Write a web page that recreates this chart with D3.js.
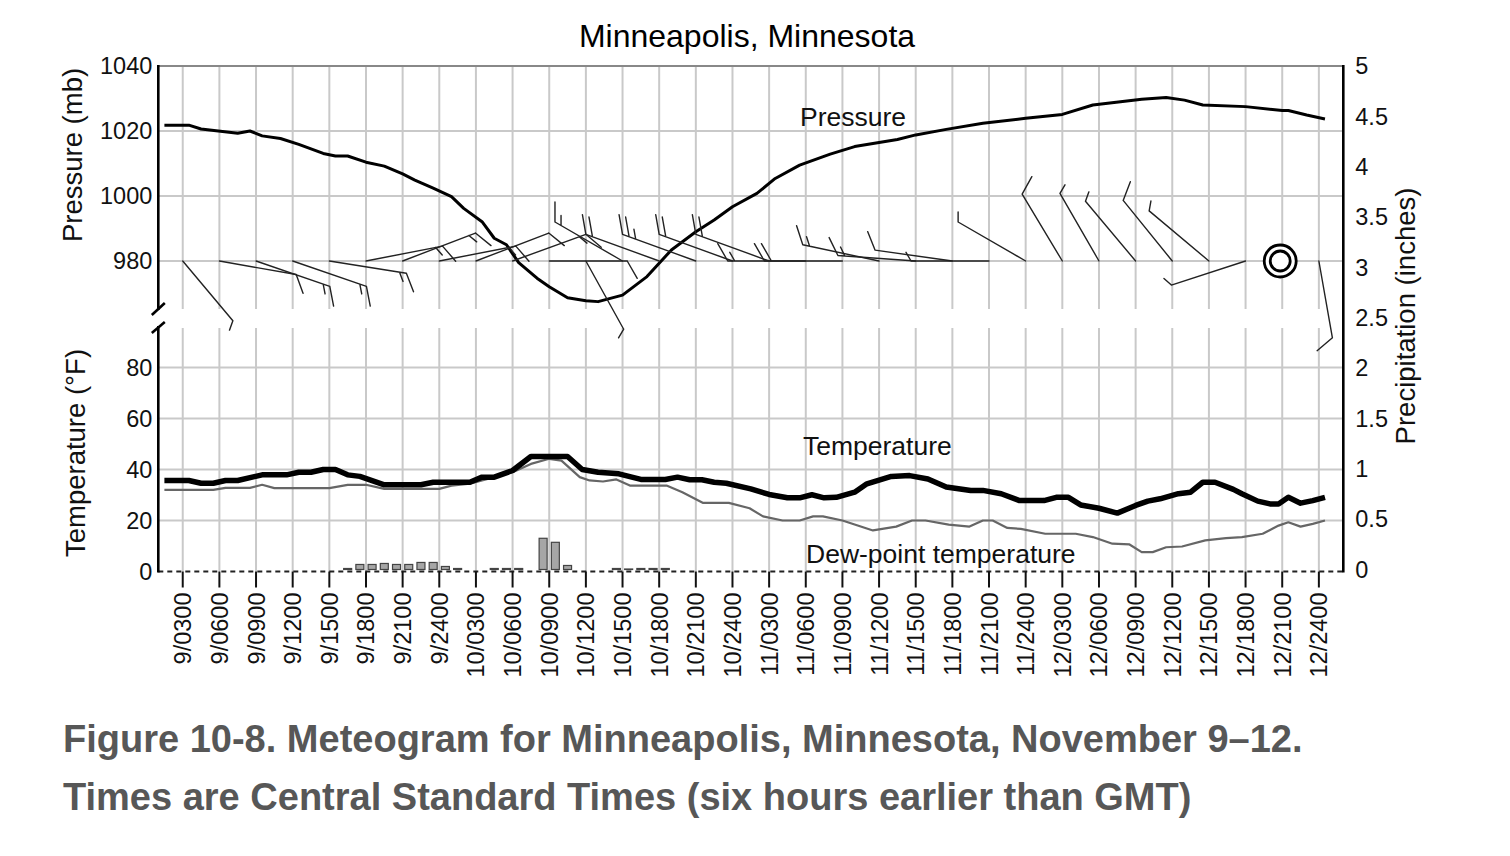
<!DOCTYPE html>
<html><head><meta charset="utf-8">
<script src="https://cdn.jsdelivr.net/npm/d3@7"></script>
<style>
body{margin:0;background:#fff;}
svg{display:block;font-family:"Liberation Sans",Arial,Helvetica,sans-serif;}
</style>
</head><body>
<svg id="chart" width="1510" height="856"></svg>
<script>
// ---------------- DATA ----------------
const tickHours = [3,6,9,12,15,18,21,24,27,30,33,36,39,42,45,48,51,54,57,60,63,66,69,72,75,78,81,84,87,90,93,96];
const tickLabels = ["9/0300","9/0600","9/0900","9/1200","9/1500","9/1800","9/2100","9/2400",
  "10/0300","10/0600","10/0900","10/1200","10/1500","10/1800","10/2100","10/2400",
  "11/0300","11/0600","11/0900","11/1200","11/1500","11/1800","11/2100","11/2400",
  "12/0300","12/0600","12/0900","12/1200","12/1500","12/1800","12/2100","12/2400"];
const pressureTicks = [1040,1020,1000,980];
const tempTicks = [80,60,40,20,0];
const precipTicks = [5,4.5,4,3.5,3,2.5,2,1.5,1,0.5,0];

// pressure (mb)
const pressureHours = [1.5,3.5,4.5,7.5,8.5,9.5,11,12.5,14.5,15.5,16.5,18,19.5,21,22,23.5,25,26,27.5,28.5,29.5,30.5,32,33,34.5,36,37,39,41,43,45,46.5,48,50,51.5,53.5,56,58,61.5,63,65.5,68.5,72,75,77.5,81.5,83.5,85,86.5,90,93,93.5,95,96.5];
const pressureValues = [1021.8,1021.8,1020.6,1019.3,1020,1018.5,1017.7,1015.9,1013.1,1012.3,1012.3,1010.4,1009.2,1006.8,1004.9,1002.4,999.8,996.2,992.1,987,985,979.5,974.7,972.1,968.7,967.8,967.5,969.5,975.2,983.4,989,992.6,996.7,1000.8,1005.4,1009.5,1012.9,1015.2,1017.4,1018.8,1020.5,1022.4,1023.9,1025.1,1028,1029.8,1030.3,1029.5,1028,1027.5,1026.3,1026.3,1024.9,1023.7];

// temperature (F)
const tempHours = [1.5,3.5,4.5,5.5,6.5,7.5,9.5,11.5,12.5,13.5,14.5,15.5,16.5,17.5,19.5,22.5,23.5,26.5,27.5,28.5,30,31.5,34.5,35.7,37,38.7,40.5,42.5,43.5,44.5,45.5,46.5,47.5,49.5,51,52.5,53.5,54.5,55.5,56.5,58,59,61,62.5,64,65.5,67.5,68.5,70,71.5,73.5,74.5,75.5,76.5,78,79.5,81,82,83,84.5,85.5,86.5,87.5,89,89.7,91,92,92.7,93.5,94.5,95.5,96.5];
const tempValues = [35.7,35.7,34.6,34.6,35.7,35.7,37.9,37.9,38.9,38.9,40,40,37.9,37.3,34,34,35,35,37,37,39.6,45.1,45.1,40,38.9,38.3,36.1,36.1,37,36,36,35,34.6,32.4,30.2,28.9,28.9,30.1,28.9,29.1,31.1,34.4,37.3,37.6,36.3,33.1,31.8,31.8,30.5,27.8,27.8,29.1,29.1,26.1,24.8,22.9,25.9,27.6,28.5,30.5,31.1,35,35,32.2,30.5,27.6,26.5,26.5,29.1,26.8,27.8,29.1];

// dew point (F)
const dewHours = [1.5,5.5,6.5,8.5,9.5,10.5,15,16.5,18,19.5,24,25,26.5,28.5,30,31.5,33,34,35.5,36.3,37.4,38.5,39.6,42.6,43.9,45.6,47.7,49.4,50.5,52.1,53.5,54.6,55.4,57,59.5,61.4,62.7,63.8,65.7,67.4,68.5,69.3,70.5,71.6,73.6,76.1,77.5,79.1,80.5,81.5,82.4,83.5,84.8,86.7,88.4,89.7,91.4,92.7,93.5,94.5,95.5,96.5];
const dewValues = [32,32,32.8,32.8,34,32.7,32.7,34,34,32.4,32.4,33.7,34.4,37,38.9,42.2,44.2,43.5,37,35.7,35.3,36.1,33.7,33.7,31.1,26.9,26.9,24.8,21.6,20,20,21.6,21.6,20,16.1,17.6,20,20,18.4,17.6,20,20,17.1,16.7,14.8,14.8,13.5,10.9,10.6,7.6,7.6,9.5,9.8,12.2,13.1,13.5,14.8,18,19.3,17.6,18.7,20];

// hourly precipitation (inches), bar centred on hour
const precipHours = [16.5,17.5,18.5,19.5,20.5,21.5,22.5,23.5,24.5,25.5,28.5,29.5,30.5,32.5,33.5,34.5,38.5,39.5,40.5,41.5,42.5];
const precipValues = [0.01,0.05,0.05,0.06,0.05,0.05,0.07,0.07,0.03,0.01,0.01,0.01,0.01,0.31,0.27,0.04,0.01,0.005,0.01,0.01,0.01];

// wind: direction (deg, from) and speed (kt) at each 3-hour station
const windHours = tickHours;
const windDir = [140,100,109,109,99,79,69,79,69,70,90,151,300,290,290,290,290,270,270,282,274,278,270,300,329,330,320,321,310,252,0,170];
const windSpeed = [5,10,15,15,15,15,15,15,10,15,10,5,15,20,25,20,20,15,20,15,15,10,5,5,10,5,5,10,5,5,0,10];

// ---------------- LAYOUT ----------------
const svg = d3.select("#chart");
const X0 = 158.3, X1 = 1343.3;
const upperTop = 66, upperBot = 309, lowerTop = 328, lowerBot = 571.5;

const x = d3.scaleLinear().domain([1, 98]).range([X0, X1]);
const yP = d3.scaleLinear().domain([1040, 980]).range([upperTop, 261]);
const yT = d3.scaleLinear().domain([0, 80]).range([lowerBot, 367.5]);
const yR = d3.scaleLinear().domain([0, 5]).range([lowerBot - 2, upperTop]);

const gridColor = "#c9c9c9";

// vertical grid
const g = svg.append("g");
tickHours.forEach(h => {
  g.append("line").attr("x1", x(h)).attr("x2", x(h)).attr("y1", upperTop).attr("y2", upperBot)
    .attr("stroke", gridColor).attr("stroke-width", 2);
  g.append("line").attr("x1", x(h)).attr("x2", x(h)).attr("y1", lowerTop).attr("y2", lowerBot)
    .attr("stroke", gridColor).attr("stroke-width", 2);
});
// horizontal grid
[1020, 1000, 980].forEach(p => {
  g.append("line").attr("x1", X0).attr("x2", X1).attr("y1", yP(p)).attr("y2", yP(p))
    .attr("stroke", gridColor).attr("stroke-width", 2);
});
[80, 60, 40, 20].forEach(t => {
  g.append("line").attr("x1", X0).attr("x2", X1).attr("y1", yT(t)).attr("y2", yT(t))
    .attr("stroke", gridColor).attr("stroke-width", 2);
});
// top frame
g.append("line").attr("x1", X0).attr("x2", X1).attr("y1", upperTop).attr("y2", upperTop)
  .attr("stroke", "#888").attr("stroke-width", 2);

// precipitation bars
const bw = 8;
svg.append("g").selectAll("rect").data(precipHours).join("rect")
  .attr("x", (d) => x(d) - bw / 2)
  .attr("y", (d, i) => yR(precipValues[i]))
  .attr("width", bw)
  .attr("height", (d, i) => Math.max(0, yR(0) - yR(precipValues[i])))
  .attr("fill", "#a6a6a6").attr("stroke", "#444").attr("stroke-width", 1.2);

// dashed baseline
svg.append("line").attr("x1", X0).attr("x2", X1).attr("y1", lowerBot).attr("y2", lowerBot)
  .attr("stroke", "#222").attr("stroke-width", 2).attr("stroke-dasharray", "5,4");

// x ticks
svg.append("g").selectAll("line").data(tickHours).join("line")
  .attr("x1", d => x(d)).attr("x2", d => x(d)).attr("y1", lowerBot).attr("y2", lowerBot + 16)
  .attr("stroke", "#111").attr("stroke-width", 2);
// x labels
svg.append("g").selectAll("text").data(tickHours).join("text")
  .attr("transform", d => `translate(${x(d) + 8.5},${lowerBot + 21}) rotate(-90)`)
  .attr("text-anchor", "end").attr("font-size", 23.5).attr("fill", "#111")
  .text((d, i) => tickLabels[i]);

// lines
const lineGen = (xs, ys, yscale) => d3.line().x((d, i) => x(xs[i])).y((d, i) => yscale(ys[i]))(xs);
svg.append("path").attr("d", lineGen(dewHours, dewValues, yT))
  .attr("fill", "none").attr("stroke", "#666").attr("stroke-width", 2.2).attr("stroke-linejoin", "round");
svg.append("path").attr("d", lineGen(tempHours, tempValues, yT))
  .attr("fill", "none").attr("stroke", "#000").attr("stroke-width", 5.5).attr("stroke-linejoin", "round");
svg.append("path").attr("d", lineGen(pressureHours, pressureValues, yP))
  .attr("fill", "none").attr("stroke", "#000").attr("stroke-width", 3).attr("stroke-linejoin", "round");

// wind barbs
const wb = svg.append("g").attr("stroke", "#222").attr("stroke-width", 1.4).attr("fill", "none").attr("stroke-linecap", "round");
const SH = 78, FB = 20, HB = 10, SP = 7;
const rot = 60 * Math.PI / 180;
windHours.forEach((h, i) => {
  const sx = x(h), sy = yP(980);
  const spd = windSpeed[i];
  if (spd === 0) {
    wb.append("circle").attr("cx", sx - 2).attr("cy", sy).attr("r", 16).attr("stroke", "#000").attr("stroke-width", 2.8).attr("fill", "#fff");
    wb.append("circle").attr("cx", sx - 2).attr("cy", sy).attr("r", 10).attr("stroke", "#000").attr("stroke-width", 2.8);
    return;
  }
  const r = windDir[i] * Math.PI / 180;
  const ux = Math.sin(r), uy = -Math.cos(r);
  const tx = sx + SH * ux, ty = sy + SH * uy;
  const bx = ux * Math.cos(rot) - uy * Math.sin(rot), by = ux * Math.sin(rot) + uy * Math.cos(rot);
  let p = `M${sx},${sy}L${tx},${ty}`;
  const n10 = Math.floor(spd / 10), n5 = Math.round((spd % 10) / 5);
  let pos = 0;
  for (let k = 0; k < n10; k++) {
    const px = tx - ux * pos, py = ty - uy * pos;
    p += `M${px},${py}L${px + bx * FB},${py + by * FB}`;
    pos += SP;
  }
  if (n5) {
    const px = tx - ux * pos, py = ty - uy * pos;
    p += `M${px},${py}L${px + bx * HB},${py + by * HB}`;
  }
  wb.append("path").attr("d", p);
});

// axes lines
const ax = svg.append("g").attr("stroke", "#000").attr("stroke-width", 2.6);
ax.append("line").attr("x1", X0).attr("x2", X0).attr("y1", upperTop - 1).attr("y2", 310);
ax.append("line").attr("x1", X0).attr("x2", X0).attr("y1", 326).attr("y2", lowerBot + 1);
ax.append("line").attr("x1", X0 - 6.5).attr("x2", X0 + 6.5).attr("y1", 315).attr("y2", 303);
ax.append("line").attr("x1", X0 - 6.5).attr("x2", X0 + 6.5).attr("y1", 333).attr("y2", 322);
ax.append("line").attr("x1", X1).attr("x2", X1).attr("y1", upperTop - 1).attr("y2", lowerBot + 1);

// tick labels
const tl = svg.append("g").attr("font-size", 23.5).attr("fill", "#111");
pressureTicks.forEach(p => tl.append("text").attr("x", X0 - 6).attr("y", yP(p)).attr("dy", "0.35em").attr("text-anchor", "end").text(p));
tempTicks.forEach(t => tl.append("text").attr("x", X0 - 6).attr("y", yT(t)).attr("dy", "0.35em").attr("text-anchor", "end").text(t));
precipTicks.forEach(v => tl.append("text").attr("x", X1 + 12).attr("y", yR(v)).attr("dy", "0.35em").attr("text-anchor", "start").text(v));

// axis titles
const at = svg.append("g").attr("font-size", 27.5).attr("fill", "#111").attr("text-anchor", "middle");
at.append("text").attr("transform", "translate(82,155) rotate(-90)").text("Pressure (mb)");
at.append("text").attr("transform", "translate(85,453) rotate(-90)").text("Temperature (°F)");
at.append("text").attr("transform", "translate(1415,316) rotate(-90)").text("Precipitation (inches)");

// title & labels
svg.append("text").attr("x", 747).attr("y", 47).attr("text-anchor", "middle").attr("font-size", 32).attr("fill", "#000").text("Minneapolis, Minnesota");
const lb = svg.append("g").attr("font-size", 26.5).attr("fill", "#111");
lb.append("text").attr("x", 800).attr("y", 126).text("Pressure");
lb.append("text").attr("x", 803).attr("y", 455).text("Temperature");
lb.append("text").attr("x", 806).attr("y", 563).text("Dew-point temperature");

// caption
const cp = svg.append("g").attr("font-size", 38).attr("font-weight", "bold").attr("fill", "#575757");
cp.append("text").attr("x", 63).attr("y", 752).text("Figure 10-8. Meteogram for Minneapolis, Minnesota, November 9–12.");
cp.append("text").attr("x", 63).attr("y", 810).text("Times are Central Standard Times (six hours earlier than GMT)");
</script>
</body></html>
